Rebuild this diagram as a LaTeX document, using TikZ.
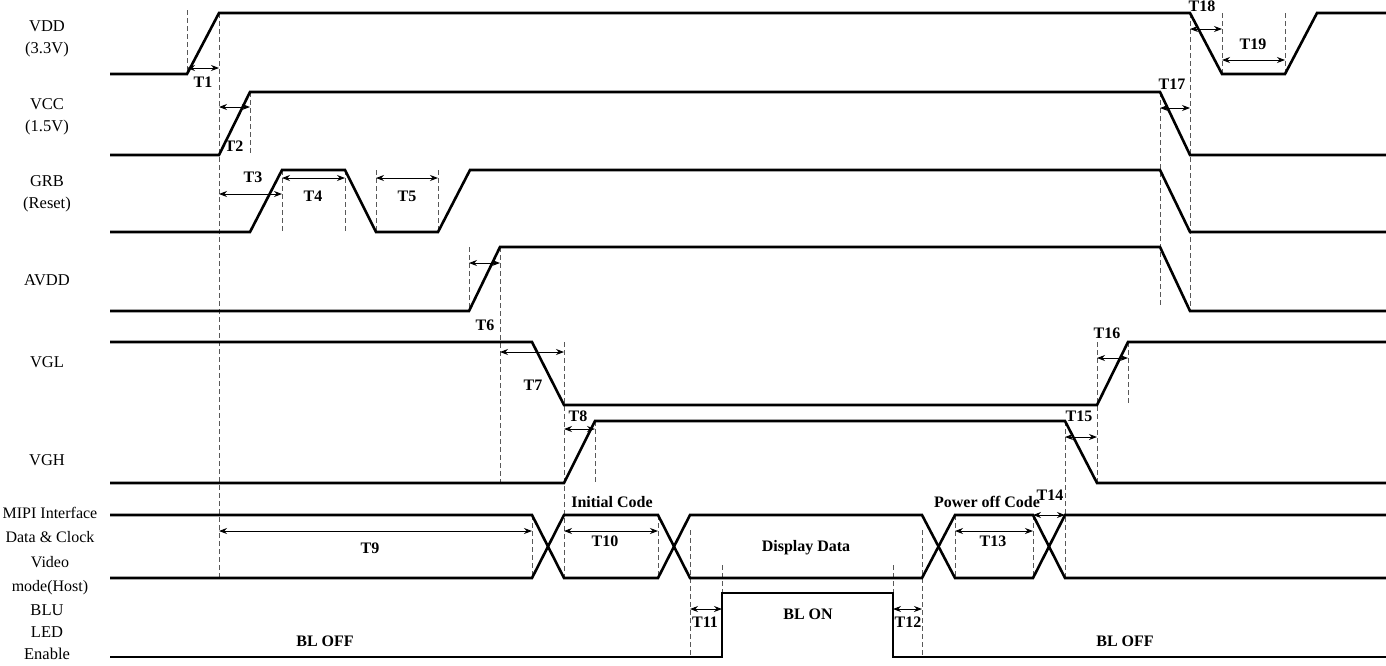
\documentclass[tikz,border=0pt]{standalone}
\usepackage{fontspec}
\setmainfont{Liberation Serif}
\usetikzlibrary{arrows.meta}
\begin{document}
\begin{tikzpicture}[x=1pt,y=-1pt,
  sig/.style={line width=2.6pt,line join=miter},
  dsh/.style={dash pattern=on 5pt off 3pt,line width=0.8pt,gray!70!black},
  dim/.style={{Stealth[length=8pt,width=6pt]}-{Stealth[length=8pt,width=6pt]},line width=0.9pt},
  tl/.style={font=\fontsize{16}{18}\selectfont\bfseries,inner sep=0pt},
  nm/.style={font=\fontsize{16.5}{22}\selectfont,align=center,inner sep=0pt}]
\useasboundingbox (0,0) rectangle (1386,665);
% labels
\node[nm] (lvdd) at (47,39) {VDD\\(3.3V)};
\node[nm] (lvcc) at (47,117) {VCC\\(1.5V)};
\node[nm] (lgrb) at (47,194) {GRB\\(Reset)};
\node[nm] (lavdd) at (47,280) {AVDD};
\node[nm] (lvgl) at (47,362) {VGL};
\node[nm] (lvgh) at (47,460) {VGH};
\node[nm,font=\fontsize{16}{24.5}\selectfont] (lmipi) at (50,551) {MIPI Interface\\Data \& Clock\\Video\\mode(Host)};
\node[nm] (lblu) at (47,632) {BLU\\LED\\Enable};
% dashed
\foreach \x/\a/\b in {187/10/74, 219/13/578, 250/92/155, 282/170/232, 345/170/232, 376/170/232, 438/170/232,
  469/247/311, 500/247/483, 532/515/578, 564/342/578, 595/421/483, 658/515/578, 690/530/657,
  722/565/593, 893/565/593, 922/530/657, 955/515/578, 1033/515/578, 1065/421/578, 1097/342/483,
  1128/342/405, 1160/92/307, 1190/13/311, 1222/13/74, 1285/13/74}
  \draw[dsh] (\x,\a) -- (\x,\b);
% signals
\draw[sig] (110,74) -- (187,74) -- (219,13) -- (1190,13) -- (1222,74) -- (1285,74) -- (1317,13) -- (1386,13);
\draw[sig] (110,155) -- (219,155) -- (250,92) -- (1160,92) -- (1190,155) -- (1386,155);
\draw[sig] (110,232) -- (250,232) -- (282,170) -- (345,170) -- (376,232) -- (438,232) -- (470,170) -- (1160,170) -- (1190,232) -- (1386,232);
\draw[sig] (110,311) -- (469,311) -- (500,247) -- (1160,247) -- (1190,311) -- (1386,311);
\draw[sig] (110,342) -- (532,342) -- (564,405) -- (1097,405) -- (1128,342) -- (1386,342);
\draw[sig] (110,483) -- (564,483) -- (595,421) -- (1065,421) -- (1097,483) -- (1386,483);
\draw[sig] (110,515) -- (532,515) -- (564,578) -- (658,578) -- (690,515) -- (922,515) -- (955,578) -- (1033,578) -- (1065,515) -- (1386,515);
\draw[sig] (110,578) -- (532,578) -- (564,515) -- (658,515) -- (690,578) -- (922,578) -- (955,515) -- (1033,515) -- (1065,578) -- (1386,578);
\draw[sig] (110,657) -- (722,657) -- (722,593) -- (893,593) -- (893,657) -- (1386,657);
% dimension arrows
\foreach \a/\b/\y in {187/219/68, 219/250/107, 219/282/194, 282/345/178, 376/438/178, 469/500/263,
  500/564/352, 564/595/429, 219/532/531, 564/658/531, 690/722/609, 893/922/609, 955/1033/531,
  1033/1065/515, 1065/1097/437, 1097/1128/358, 1160/1190/108, 1190/1222/29, 1222/1285/60}
  \draw[dim] (\a,\y) -- (\b,\y);
% time labels
\node[tl] (t1) at (203,82) {T1};
\node[tl] (t2) at (234,146) {T2};
\node[tl] (t3) at (253,177) {T3};
\node[tl] (t4) at (313,196) {T4};
\node[tl] (t5) at (407,196) {T5};
\node[tl] (t6) at (485,325) {T6};
\node[tl] (t7) at (533,385) {T7};
\node[tl] (t8) at (578,416) {T8};
\node[tl] (t9) at (370,548) {T9};
\node[tl] (t10) at (605,541) {T10};
\node[tl] (t11) at (705,622) {T11};
\node[tl] (t12) at (908,622) {T12};
\node[tl] (t13) at (993,541) {T13};
\node[tl] (t14) at (1050,495) {T14};
\node[tl] (t15) at (1079,416) {T15};
\node[tl] (t16) at (1107,333) {T16};
\node[tl] (t17) at (1172,84) {T17};
\node[tl] (t18) at (1202,6) {T18};
\node[tl] (t19) at (1253,44) {T19};
\node[tl] (ic) at (612,502) {Initial Code};
\node[tl] (dd) at (806,548) {Display Data};
\node[tl] (pc) at (987,502) {Power off Code};
\node[tl] (blon) at (808,614) {BL ON};
\node[tl] (bloff1) at (325,641) {BL OFF};
\node[tl] (bloff2) at (1125,641) {BL OFF};
\end{tikzpicture}
\end{document}
